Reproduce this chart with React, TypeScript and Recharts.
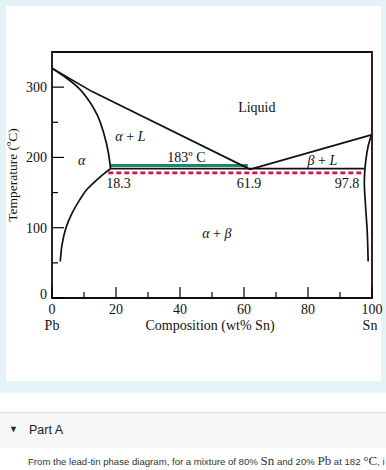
import React from 'react'
import { LineChart, Line, XAxis, YAxis, ReferenceArea, Scatter } from 'recharts'

// phase boundaries (wt% Sn, °C)
const liquidusLeft = [
  { x: 0, t: 327 },
  { x: 12.4, t: 294 },
  { x: 61.9, t: 183 },
]
const liquidusRight = [
  { x: 61.9, t: 183 },
  { x: 99.8, t: 232 },
]
const solidusLeft = [
  { x: 0, t: 327 },
  { x: 4.5, t: 313 },
  { x: 8.5, t: 298 },
  { x: 11.5, t: 281 },
  { x: 14.2, t: 260 },
  { x: 16.2, t: 234 },
  { x: 17.6, t: 207 },
  { x: 18.3, t: 184 },
]
const solvusLeft = [
  { x: 18.3, t: 184 },
  { x: 16, t: 176 },
  { x: 13.5, t: 166 },
  { x: 11, t: 155 },
  { x: 8.7, t: 140 },
  { x: 6.2, t: 120 },
  { x: 4.3, t: 99 },
  { x: 3.1, t: 75 },
  { x: 2.6, t: 52 },
]
const solidusRight = [
  { x: 99.8, t: 232 },
  { x: 98.9, t: 218 },
  { x: 98.2, t: 200 },
  { x: 97.8, t: 184 },
]
const solvusRight = [
  { x: 97.8, t: 184 },
  { x: 97.6, t: 165 },
  { x: 98.0, t: 130 },
  { x: 98.5, t: 95 },
  { x: 98.8, t: 52 },
]
const eutecticLine = [
  { x: 18.3, t: 184 },
  { x: 97.8, t: 184 },
]
const greenLine = [
  { x: 18.3, t: 188.5 },
  { x: 61.2, t: 188.5 },
]
const redLine = [
  { x: 17.6, t: 178 },
  { x: 97.6, t: 178 },
]

const xTicks = [0, 10, 20, 30, 40, 50, 60, 70, 80, 90, 100]
const yTicks = [0, 50, 100, 150, 200, 250, 300]

// text inside the diagram, italic parts flagged
const annotations = [
  { x: 64, t: 272, parts: [{ s: 'Liquid' }] },
  { x: 24.5, t: 230, parts: [{ s: 'α', i: true }, { s: ' + ' }, { s: 'L', i: true }] },
  { x: 9.3, t: 197, parts: [{ s: 'α', i: true }] },
  { x: 42, t: 200.5, parts: [{ s: '183º C' }] },
  { x: 84.5, t: 196, parts: [{ s: 'β', i: true }, { s: ' + ' }, { s: 'L', i: true }] },
  { x: 20.8, t: 163, parts: [{ s: '18.3' }] },
  { x: 61.6, t: 163, parts: [{ s: '61.9' }] },
  { x: 92.2, t: 163, parts: [{ s: '97.8' }] },
  { x: 51.5, t: 92, parts: [{ s: 'α', i: true }, { s: ' + ' }, { s: 'β', i: true }] },
]

const serif = '"Liberation Serif", "DejaVu Serif", serif'
const sans = '"Liberation Sans", Arial, sans-serif'

const XTick = ({ x, y, payload }: any) => {
  const v = payload.value
  const major = v % 20 === 0
  return (
    <g>
      <line x1={x} x2={x} y1={y} y2={y - (major ? 11 : 6)} stroke="#000" strokeWidth={1.2} />
      {major && (
        <text x={x} y={y + 15.5} textAnchor="middle" fontSize={14} fontFamily={serif} fill="#111">
          {v}
        </text>
      )}
    </g>
  )
}

const YTick = ({ x, y, payload }: any) => {
  const v = payload.value
  const major = v % 100 === 0
  return (
    <g>
      <line x1={x} x2={x + (major ? 12 : 6)} y1={y} y2={y} stroke="#000" strokeWidth={1.2} />
      {major && (
        <text x={x - 5} y={y + (v === 0 ? 1 : 5)} textAnchor="end" fontSize={14} fontFamily={serif} fill="#111">
          {v}
        </text>
      )}
    </g>
  )
}

const Note = (props: any) => {
  const { cx, cy, payload } = props
  return (
    <text x={cx} y={cy} textAnchor="middle" dominantBaseline="central" fontSize={14} fontFamily={serif} fill="#111">
      {payload.parts.map((p: any, k: number) => (
        <tspan key={k} fontStyle={p.i ? 'italic' : 'normal'}>
          {p.s}
        </tspan>
      ))}
    </text>
  )
}

export default function App() {
  const curve = (data: any[], key: string, type: any = 'linear') => (
    <Line
      key={key}
      data={data}
      dataKey="t"
      type={type}
      stroke="#111"
      strokeWidth={1.7}
      dot={false}
      activeDot={false}
      isAnimationActive={false}
    />
  )

  return (
    <div style={{ position: 'absolute', left: 0, top: 0, width: 386, height: 470, background: '#fff', overflow: 'hidden' }}>
      <div style={{ position: 'absolute', left: 0, top: 0, width: 386, height: 393, background: '#e4f4f6' }} />
      <div style={{ position: 'absolute', left: 6, top: 6, width: 375, height: 375, background: '#fff' }} />
      <div style={{ position: 'absolute', left: 0, top: 0 }}>
        <LineChart width={386} height={393} margin={{ top: 52, right: 14, bottom: 65, left: 12 }}>
          <XAxis
            type="number"
            dataKey="x"
            domain={[0, 100]}
            ticks={xTicks}
            tick={<XTick />}
            tickLine={false}
            tickSize={0}
            tickMargin={0}
            axisLine={false}
            height={30}
            allowDataOverflow
          />
          <YAxis
            type="number"
            domain={[0, 350]}
            ticks={yTicks}
            tick={<YTick />}
            tickLine={false}
            tickSize={0}
            tickMargin={0}
            axisLine={false}
            width={40}
            allowDataOverflow
          />
          <ReferenceArea x1={0} x2={100} y1={0} y2={350} fill="none" stroke="#111" strokeWidth={1.8} ifOverflow="visible" />
          <Line data={greenLine} dataKey="t" stroke="#17896c" strokeWidth={3.2} dot={false} activeDot={false} isAnimationActive={false} />
          {curve(eutecticLine, 'eut')}
          <Line data={redLine} dataKey="t" stroke="#d1134a" strokeWidth={2.6} strokeDasharray="5 3" dot={false} activeDot={false} isAnimationActive={false} />
          {curve(liquidusLeft, 'll')}
          {curve(liquidusRight, 'lr')}
          {curve(solidusLeft, 'sl', 'monotoneY')}
          {curve(solvusLeft, 'vl', 'monotoneY')}
          {curve(solidusRight, 'sr', 'monotoneY')}
          {curve(solvusRight, 'vr', 'monotoneY')}
          <Scatter data={annotations} dataKey="t" shape={<Note />} isAnimationActive={false} />
        </LineChart>
      </div>
      <div style={{ position: 'absolute', left: 52, top: 318, transform: 'translateX(-50%)', fontFamily: serif, fontSize: 14, color: '#111' }}>Pb</div>
      <div style={{ position: 'absolute', left: 210, top: 318, transform: 'translateX(-50%)', fontFamily: serif, fontSize: 14, color: '#111', whiteSpace: 'nowrap' }}>
        Composition (wt% Sn)
      </div>
      <div style={{ position: 'absolute', left: 370, top: 318, transform: 'translateX(-50%)', fontFamily: serif, fontSize: 14, color: '#111' }}>Sn</div>
      <div
        style={{
          position: 'absolute',
          left: 13,
          top: 175,
          transform: 'translate(-50%, -50%) rotate(-90deg)',
          fontFamily: serif,
          fontSize: 13.5,
          color: '#111',
          whiteSpace: 'nowrap',
        }}
      >
        Temperature (ºC)
      </div>

      <div style={{ position: 'absolute', left: 0, top: 412, width: 386, height: 1, background: '#dcdcdc' }} />
      <div style={{ position: 'absolute', left: 0, top: 413, width: 386, height: 35, background: '#f6f6f6' }} />
      <div style={{ position: 'absolute', left: 9, top: 424, fontFamily: sans, fontSize: 9, color: '#222' }}>▼</div>
      <div style={{ position: 'absolute', left: 29, top: 423, fontFamily: sans, fontSize: 12.5, color: '#222' }}>Part A</div>
      <div
        style={{
          position: 'absolute',
          left: 28,
          top: 453,
          width: 358,
          overflow: 'hidden',
          fontFamily: sans,
          fontSize: 9.6,
          color: '#333',
          whiteSpace: 'nowrap',
        }}
      >
        From the lead-tin phase diagram, for a mixture of 80%{' '}
        <span style={{ fontFamily: serif, fontSize: 13 }}>Sn</span> and 20%{' '}
        <span style={{ fontFamily: serif, fontSize: 13 }}>Pb</span> at 182{' '}
        <span style={{ fontFamily: serif, fontSize: 13 }}>°C</span>, i
      </div>
    </div>
  )
}
